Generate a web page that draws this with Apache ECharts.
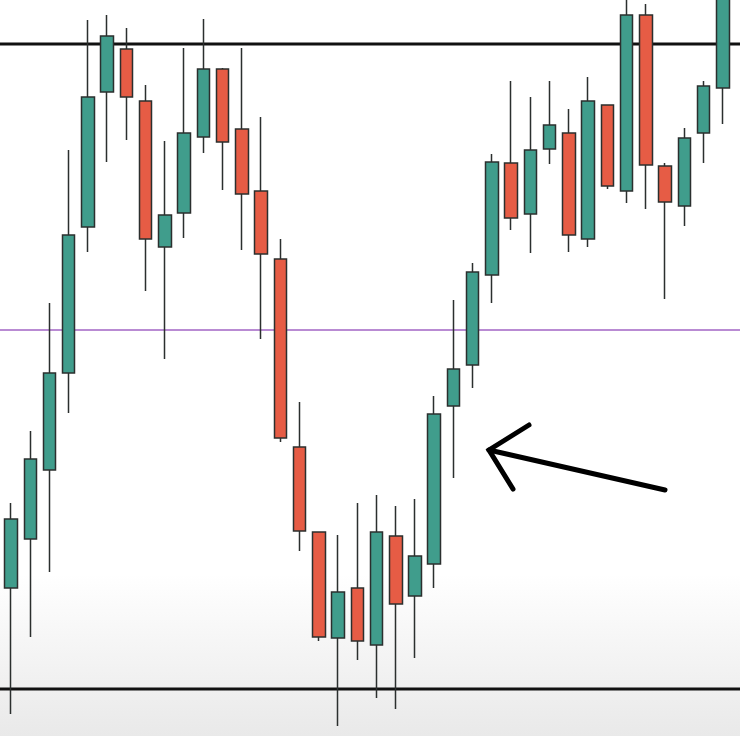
<!DOCTYPE html>
<html>
<head>
<meta charset="utf-8">
<script src="https://cdn.jsdelivr.net/npm/echarts@6/dist/echarts.min.js"></script>
<style>
html,body{margin:0;padding:0;background:#fff;}
#main{width:740px;height:736px;}
</style>
</head>
<body>
<div id="main"></div>
<script>
// Candle index labels
var categories = [];
for (var i = 1; i <= 38; i++) categories.push('C' + i);

// OHLC values
var opens  = [148,197,266,363,509,644,687,635,489,523,599,667,607,545,477,289,204, 98,148, 91,200,140,172,330,371,461,573,522,587,603,497,631,545,721,570,530,603,648];
var closes = [217,277,363,501,639,700,639,497,521,603,667,594,542,482,298,205, 99,144, 95,204,132,180,322,367,464,574,518,586,611,501,635,550,721,571,534,598,650,760];
var lows   = [ 22, 99,164,323,484,574,596,445,377,498,583,546,486,397,294,185, 95, 10, 76, 38, 27, 78,148,258,348,433,506,483,572,484,489,547,533,527,437,510,573,612];
var highs  = [233,305,433,586,716,721,708,651,595,688,717,668,688,619,497,334,204,201,233,241,230,237,340,436,473,582,655,639,655,627,659,631,745,732,573,608,655,770];

// Horizontal levels: resistance, middle, support
var levelValues = [692, 406, 47];
var levelColors = ['#111111', '#b98bd3', '#111111'];
var levelWidths = [3, 2, 3];

var ohlc = categories.map(function (c, i) {
  return [opens[i], closes[i], lows[i], highs[i]];
});

var chart = echarts.init(document.getElementById('main'), null, {renderer: 'canvas'});
var option = {
  animation: false,
  backgroundColor: {
    type: 'linear', x: 0, y: 0, x2: 0, y2: 1,
    colorStops: [
      {offset: 0, color: '#ffffff'},
      {offset: 0.78, color: '#ffffff'},
      {offset: 1, color: '#e9e9e9'}
    ]
  },
  grid: {left: 1.4, right: 7.6, top: 0, bottom: 0},
  xAxis: {
    type: 'category',
    data: categories,
    boundaryGap: true,
    show: false
  },
  yAxis: {
    type: 'value',
    min: 0,
    max: 736,
    show: false,
    splitLine: {show: false}
  },
  series: [{
    type: 'candlestick',
    data: ohlc,
    barWidth: 13,
    clip: true,
    itemStyle: {
      color: '#409d8c',
      color0: '#e65c45',
      borderColor: '#2b2f2e',
      borderColor0: '#2b2f2e',
      borderWidth: 1.5
    }
  }]
};
chart.setOption(option);

// Level lines spanning full width, placed via the y axis scale
var graphics = levelValues.map(function (v, i) {
  var py = chart.convertToPixel({yAxisIndex: 0}, v);
  return {
    type: 'line',
    z: 1,
    shape: {x1: 0, y1: py, x2: 740, y2: py},
    style: {stroke: levelColors[i], lineWidth: levelWidths[i]}
  };
});

// Arrow annotation
graphics.push({
  type: 'polyline',
  z: 10,
  shape: {points: [[665, 490], [489, 450]]},
  style: {stroke: '#000', lineWidth: 5, lineCap: 'round', fill: null}
});
graphics.push({
  type: 'polyline',
  z: 10,
  shape: {points: [[529, 425], [489, 450], [513, 489]]},
  style: {stroke: '#000', lineWidth: 5, lineCap: 'round', lineJoin: 'miter', fill: null}
});

chart.setOption({graphic: graphics});
</script>
</body>
</html>
